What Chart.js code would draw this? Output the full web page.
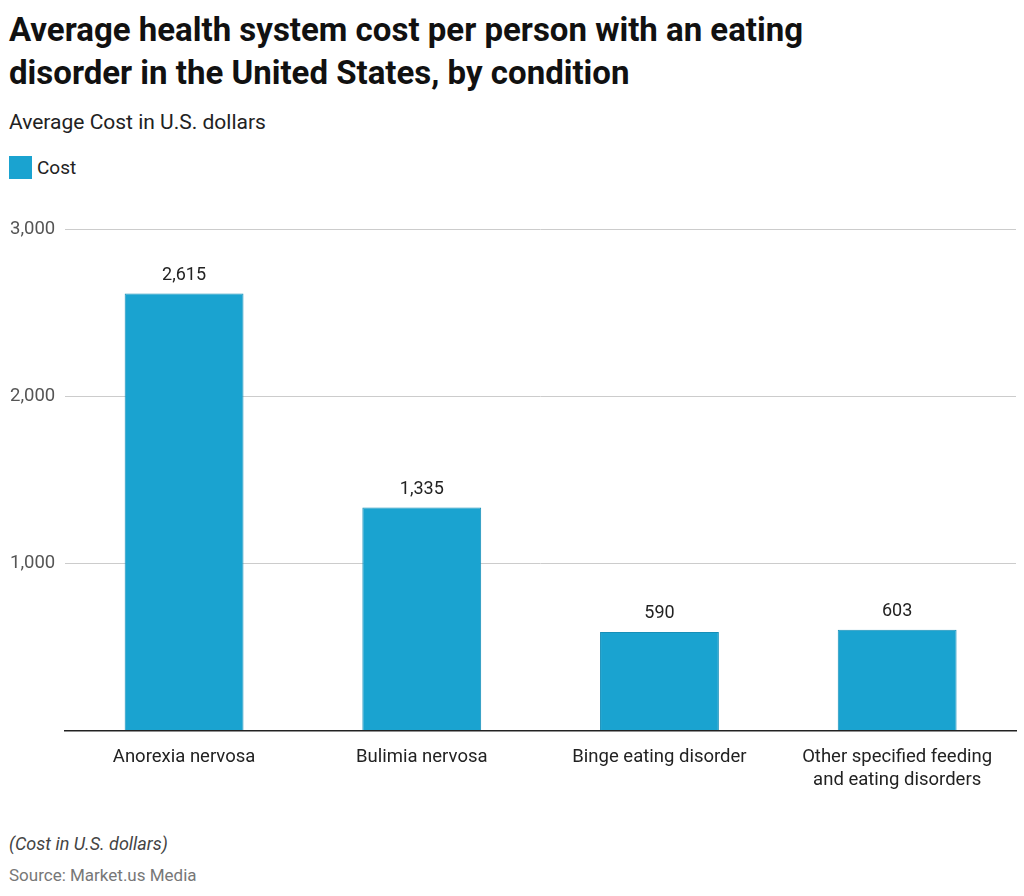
<!DOCTYPE html>
<html><head><meta charset="utf-8">
<script src="https://cdn.jsdelivr.net/npm/chart.js@4"></script>
<style>
body{margin:0;width:1024px;height:896px;background:#fff;font-family:Roboto,sans-serif;position:relative;overflow:hidden}
#t{position:absolute;left:9px;top:8px;font-size:33px;font-weight:700;line-height:43px;color:#111;width:920px}
#s{position:absolute;left:9px;top:110px;font-size:21px;color:#222}
#l{position:absolute;left:9px;top:156px;font-size:19px;color:#222}
#l span{display:inline-block;width:23px;height:23px;background:#1aa3d0;vertical-align:-5px;margin-right:5px}
#f{position:absolute;left:9px;top:833px;font-size:18px;font-style:italic;color:#444}
#src{position:absolute;left:9px;top:865px;font-size:17px;color:#777}
#w{position:absolute;left:0;top:208px;width:1024px;height:611px}
</style></head><body>
<div id="t">Average health system cost per person with an eating disorder in the United States, by condition</div>
<div id="s">Average Cost in U.S. dollars</div>
<div id="l"><span></span>Cost</div>
<div id="w"><canvas id="c"></canvas></div>
<div id="f">(Cost in U.S. dollars)</div>
<div id="src">Source: Market.us Media</div>
<script>
const categories=["Anorexia nervosa","Bulimia nervosa","Binge eating disorder",["Other specified feeding","and eating disorders"]];
const costValues=[2615,1335,590,603];
const yTicks=[0,1000,2000,3000];
const labelsPlugin={id:'vals',afterDatasetsDraw(ch){const c=ch.ctx;c.save();c.font='18px Roboto';c.fillStyle='#222';c.textAlign='center';c.textBaseline='bottom';
ch.getDatasetMeta(0).data.forEach((b,i)=>{c.fillText(costValues[i].toLocaleString('en-US'),b.x,b.y-9);});c.restore();}};
new Chart(document.getElementById('c'),{type:'bar',data:{labels:categories,datasets:[{label:'Cost',data:costValues,backgroundColor:'#1aa3d0',borderColor:'#168fb8',borderWidth:1,barPercentage:0.5,categoryPercentage:1}]},
options:{responsive:true,maintainAspectRatio:false,animation:false,layout:{padding:{left:0,right:8,top:20,bottom:20}},
plugins:{legend:{display:false},tooltip:{enabled:false}},
scales:{y:{min:0,max:3000,afterBuildTicks(a){a.ticks=yTicks.map(v=>({value:v}));},border:{display:false},grid:{color:'#ccc',drawTicks:false},
ticks:{padding:10,color:'#555',font:{size:18.5,family:'Roboto'},callback:v=>v===0?'':v.toLocaleString('en-US')}},
x:{border:{color:'#222',width:1.5},grid:{display:false},ticks:{color:'#222',font:{size:18.5,family:'Roboto'},padding:8,maxRotation:0}}}},
plugins:[labelsPlugin]});
</script></body></html>
